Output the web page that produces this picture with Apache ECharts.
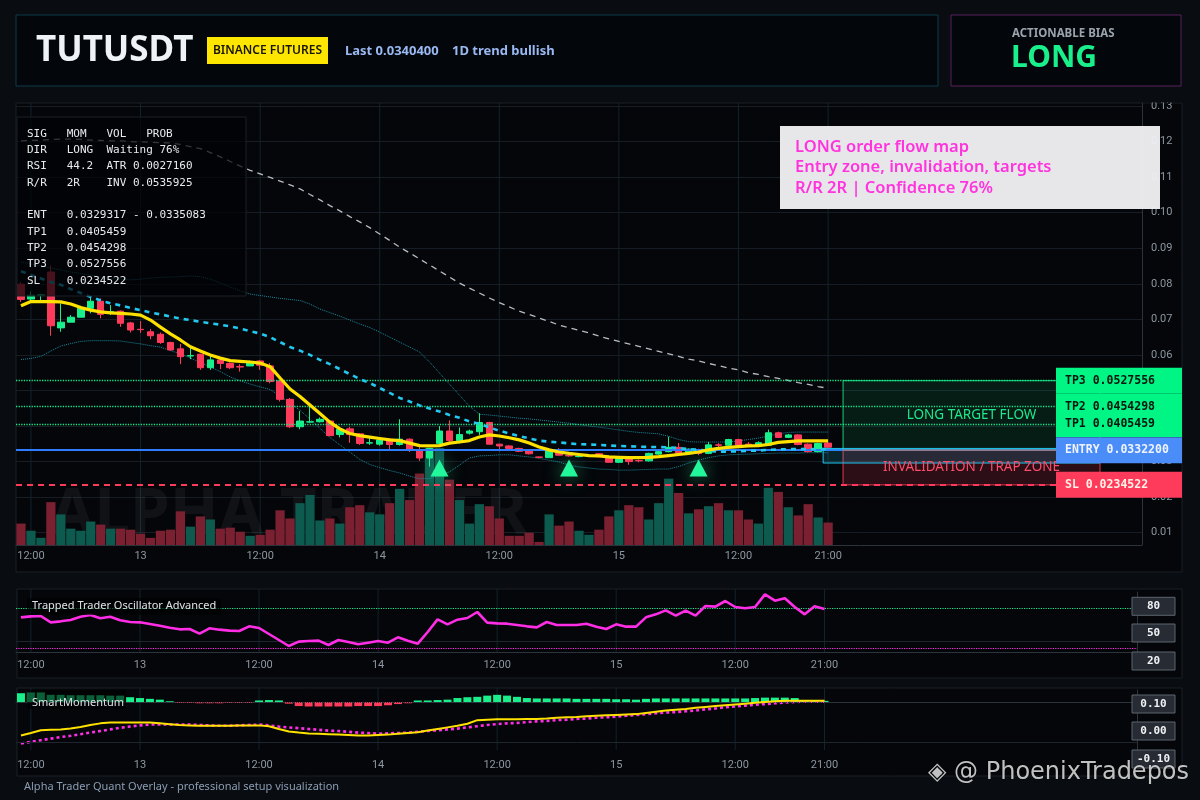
<!DOCTYPE html>
<html>
<head>
<meta charset="utf-8">
<script src="https://cdn.jsdelivr.net/npm/echarts@6/dist/echarts.min.js"></script>
<style>
  html, body { margin: 0; background: #090c10; }
  #chart { width: 1200px; height: 800px; }
</style>
</head>
<body>
<div id="chart"></div>
<script>
// ---- data ----
// hourly candles: [open, close, low, high]
const ohlc = [
  [0.0799,0.0756,0.0749,0.0805],[0.0757,0.0768,0.0754,0.0779],[0.0768,0.0769,0.0752,0.0772],
  [0.0833,0.0682,0.0654,0.0851],[0.0676,0.0692,0.0665,0.0745],[0.0692,0.0706,0.0692,0.0712],
  [0.0706,0.0731,0.0706,0.0738],[0.0731,0.0751,0.0717,0.0764],[0.0751,0.0714,0.0703,0.0759],
  [0.0720,0.0722,0.0712,0.0740],[0.0723,0.0689,0.0679,0.0725],[0.0690,0.0670,0.0663,0.0693],
  [0.0672,0.0671,0.0662,0.0695],[0.0665,0.0654,0.0644,0.0673],[0.0658,0.0635,0.0631,0.0663],
  [0.0635,0.0614,0.0612,0.0637],[0.0617,0.0595,0.0574,0.0631],[0.0597,0.0598,0.0588,0.0625],
  [0.0602,0.0564,0.0558,0.0603],[0.0564,0.0586,0.0558,0.0597],[0.0586,0.0576,0.0560,0.0587],
  [0.0576,0.0564,0.0560,0.0579],[0.0567,0.0566,0.0553,0.0574],[0.0569,0.0579,0.0569,0.0584],
  [0.0583,0.0571,0.0558,0.0586],[0.0569,0.0525,0.0520,0.0577],[0.0527,0.0475,0.0469,0.0528],
  [0.0475,0.0398,0.0394,0.0479],[0.0398,0.0414,0.0391,0.0442],[0.0411,0.0412,0.0408,0.0462],
  [0.0412,0.0419,0.0410,0.0424],[0.0414,0.0373,0.0371,0.0416],[0.0376,0.0391,0.0368,0.0396],
  [0.0392,0.0376,0.0353,0.0398],[0.0378,0.0351,0.0347,0.0380],[0.0352,0.0353,0.0347,0.0368],
  [0.0349,0.0361,0.0345,0.0364],[0.0363,0.0348,0.0331,0.0365],[0.0348,0.0363,0.0345,0.0419],
  [0.0363,0.0331,0.0327,0.0365],[0.0331,0.0310,0.0302,0.0342],[0.0310,0.0337,0.0286,0.0338],
  [0.0351,0.0386,0.0343,0.0400],[0.0386,0.0359,0.0351,0.0416],[0.0359,0.0376,0.0351,0.0396],
  [0.0380,0.0386,0.0376,0.0390],[0.0384,0.0410,0.0375,0.0436],[0.0410,0.0349,0.0348,0.0412],
  [0.0349,0.0344,0.0329,0.0350],[0.0344,0.0337,0.0335,0.0346],[0.0337,0.0329,0.0327,0.0339],
  [0.0331,0.0322,0.0320,0.0333],[0.0313,0.0312,0.0309,0.0314],[0.0311,0.0333,0.0311,0.0335],
  [0.0327,0.0318,0.0316,0.0338],[0.0317,0.0316,0.0314,0.0319],[0.0314,0.0315,0.0312,0.0317],
  [0.0316,0.0317,0.0314,0.0319],[0.0322,0.0314,0.0312,0.0324],[0.0314,0.0298,0.0296,0.0316],
  [0.0298,0.0309,0.0296,0.0311],[0.0309,0.0300,0.0291,0.0311],[0.0303,0.0302,0.0298,0.0306],
  [0.0302,0.0323,0.0300,0.0325],[0.0321,0.0328,0.0319,0.0330],[0.0328,0.0340,0.0326,0.0370],
  [0.0340,0.0323,0.0321,0.0352],[0.0326,0.0335,0.0324,0.0337],[0.0334,0.0323,0.0318,0.0336],
  [0.0323,0.0347,0.0321,0.0355],[0.0347,0.0346,0.0340,0.0352],[0.0346,0.0362,0.0344,0.0364],
  [0.0362,0.0346,0.0344,0.0364],[0.0349,0.0348,0.0345,0.0355],[0.0344,0.0353,0.0342,0.0357],
  [0.0346,0.0381,0.0344,0.0390],[0.0381,0.0368,0.0366,0.0384],[0.0368,0.0375,0.0366,0.0378],
  [0.0375,0.0348,0.0346,0.0377],[0.0349,0.0328,0.0326,0.0351],[0.0328,0.0351,0.0326,0.0353],
  [0.0352,0.03404,0.0339,0.0356]
];

const volume = [
  21,14,7,42,30,16,14,23,20,16,16,15,11,7,14,15,33,18,28,25,
  16,17,13,9,10,15,34,26,41,49,24,26,21,37,39,32,30,41,55,44,
  70,95,95,64,44,21,40,38,26,9,9,12,3,30,19,23,14,10,15,28,
  34,39,37,25,41,65,51,31,35,38,41,34,34,25,21,56,52,37,29,40,
  27,22
];

// yellow fast average
const emaFast = [
  0.0738,0.0750,0.0750,0.0750,0.0749,0.0743,0.0733,0.0726,0.0721,0.0718,
  0.0717,0.0715,0.0712,0.0698,0.0678,0.0659,0.0642,0.0623,0.0611,0.0600,
  0.0591,0.0584,0.0582,0.0580,0.0577,0.0567,0.0535,0.0504,0.0483,0.0459,
  0.0435,0.0411,0.0392,0.0379,0.0373,0.0369,0.0365,0.0361,0.0359,0.0352,
  0.0345,0.0344,0.0345,0.0352,0.0355,0.0359,0.0369,0.0375,0.0372,0.0367,
  0.0361,0.0352,0.0341,0.0333,0.0327,0.0323,0.0320,0.0317,0.0316,0.0313,
  0.0312,0.0311,0.0311,0.0312,0.0314,0.0317,0.0320,0.0323,0.0327,0.0333,
  0.0337,0.0340,0.0342,0.0344,0.0345,0.0348,0.0354,0.0356,0.0358,0.0358,
  0.0358,0.0358
];

// cyan dashed slow average
const emaSlow = [
  0.0835,0.0825,0.0815,0.0805,0.0797,0.0785,0.0774,0.0763,0.0753,0.0745,
  0.0739,0.0732,0.0726,0.0719,0.0714,0.0708,0.0702,0.0698,0.0693,0.0689,
  0.0685,0.0680,0.0674,0.0667,0.0660,0.0650,0.0636,0.0622,0.0612,0.0600,
  0.0586,0.0574,0.0560,0.0546,0.0532,0.0521,0.0507,0.0493,0.0479,0.0469,
  0.0458,0.0449,0.0441,0.0431,0.0423,0.0413,0.0406,0.0396,0.0387,0.0379,
  0.0372,0.0365,0.0359,0.0356,0.0354,0.0351,0.0349,0.0348,0.0347,0.0345,
  0.0344,0.0343,0.0342,0.0341,0.0341,0.0340,0.0338,0.0335,0.0333,0.0330,
  0.0328,0.0328,0.0329,0.0330,0.0331,0.0333,0.0334,0.0335,0.0335,0.0335,
  0.0335,0.0335
];

const bandUpper = [
  0.0861,0.0856,0.0850,0.0844,0.0839,0.0833,0.0829,0.0825,0.0819,0.0816,
  0.0813,0.0811,0.0813,0.0816,0.0818,0.0819,0.0820,0.0822,0.0820,0.0813,
  0.0802,0.0791,0.0780,0.0771,0.0767,0.0763,0.0759,0.0756,0.0753,0.0743,
  0.0729,0.0719,0.0709,0.0698,0.0687,0.0677,0.0664,0.0650,0.0636,0.0622,
  0.0608,0.0580,0.0549,0.0518,0.0487,0.0456,0.0433,0.0431,0.0428,0.0425,
  0.0422,0.0420,0.0417,0.0414,0.0411,0.0408,0.0404,0.0400,0.0397,0.0393,
  0.0389,0.0385,0.0382,0.0380,0.0378,0.0371,0.0362,0.0356,0.0355,0.0355,
  0.0355,0.0355,0.0358,0.0362,0.0366,0.0372,0.0378,0.0382,0.0383,0.0383,
  0.0383,0.0383
];

const bandLower = [
  0.0587,0.0590,0.0596,0.0611,0.0625,0.0632,0.0638,0.0640,0.0640,0.0640,
  0.0639,0.0635,0.0631,0.0626,0.0622,0.0612,0.0603,0.0591,0.0579,0.0566,
  0.0553,0.0538,0.0527,0.0518,0.0510,0.0503,0.0484,0.0465,0.0444,0.0420,
  0.0394,0.0368,0.0347,0.0327,0.0306,0.0292,0.0283,0.0275,0.0268,0.0259,
  0.0252,0.0252,0.0262,0.0271,0.0290,0.0310,0.0316,0.0317,0.0319,0.0319,
  0.0316,0.0313,0.0309,0.0304,0.0299,0.0290,0.0285,0.0282,0.0279,0.0278,
  0.0276,0.0276,0.0277,0.0278,0.0279,0.0279,0.0286,0.0296,0.0304,0.0311,
  0.0316,0.0319,0.0320,0.0321,0.0322,0.0323,0.0324,0.0324,0.0324,0.0325,
  0.0325,0.0325
];

// white dashed long average
const maLong = [
  0.1202,0.1203,0.1204,0.1206,0.1207,0.1207,0.1206,0.1204,0.1203,0.1202,
  0.1202,0.1200,0.1199,0.1198,0.1197,0.1196,0.1192,0.1186,0.1180,0.1169,
  0.1157,0.1144,0.1131,0.1119,0.1109,0.1099,0.1089,0.1078,0.1067,0.1051,
  0.1036,0.1020,0.1005,0.0989,0.0974,0.0958,0.0940,0.0922,0.0903,0.0887,
  0.0870,0.0853,0.0836,0.0819,0.0802,0.0788,0.0774,0.0760,0.0747,0.0735,
  0.0723,0.0714,0.0704,0.0694,0.0684,0.0676,0.0669,0.0662,0.0653,0.0645,
  0.0638,0.0631,0.0624,0.0617,0.0610,0.0603,0.0596,0.0588,0.0583,0.0576,
  0.0570,0.0563,0.0558,0.0550,0.0545,0.0539,0.0534,0.0528,0.0522,0.0517,
  0.0511,0.0506
];

const osc = [
  67,68.5,69,59.5,61,63,68,70.5,65.5,68,
  62.5,60,59.5,57,54.5,51.5,49,49.5,42.5,50.5,
  48.5,47,46.5,53.5,51,42,33,24,30.5,31.5,
  32,25.5,33,30,26.5,29,31.5,29,37,32,
  27.5,45,64,56.5,63.5,66,75,59,58,57.5,
  55.5,53.5,52,60,55.5,55.5,55.5,57.5,53,49.5,
  56.5,53,53,67,71.5,77.5,69.5,77,69.5,84,
  83,91.5,82.5,80.5,82.5,101.5,92,95.5,82.5,71.5,
  83.5,79.5
];

const momLine = [
  -0.0083,-0.0077,-0.0070,-0.0069,-0.0068,-0.0066,-0.0062,-0.0057,-0.0053,-0.0051,
  -0.0051,-0.0051,-0.0051,-0.0051,-0.0053,-0.0055,-0.0057,-0.0058,-0.0059,-0.0059,
  -0.0059,-0.0059,-0.0058,-0.0058,-0.0058,-0.0060,-0.0067,-0.0073,-0.0076,-0.0078,
  -0.0079,-0.0080,-0.0081,-0.0082,-0.0083,-0.0083,-0.0082,-0.0081,-0.0079,-0.0077,
  -0.0075,-0.0071,-0.0067,-0.0063,-0.0059,-0.0054,-0.0045,-0.0044,-0.0043,-0.0043,
  -0.0043,-0.0042,-0.0042,-0.0041,-0.0039,-0.0038,-0.0037,-0.0035,-0.0034,-0.0033,
  -0.0032,-0.0031,-0.0030,-0.0027,-0.0024,-0.0021,-0.0019,-0.0017,-0.0014,-0.0012,
  -0.0010,-0.0008,-0.0006,-0.0004,-0.0002,0.0000,0.0002,0.0003,0.0003,0.0003,
  0.0003,0.0003
];

const momSignal = [
  -0.0103,-0.0099,-0.0095,-0.0091,-0.0087,-0.0084,-0.0080,-0.0076,-0.0072,-0.0068,
  -0.0064,-0.0061,-0.0058,-0.0056,-0.0056,-0.0056,-0.0056,-0.0056,-0.0057,-0.0058,
  -0.0059,-0.0059,-0.0058,-0.0057,-0.0056,-0.0058,-0.0061,-0.0063,-0.0065,-0.0067,
  -0.0069,-0.0071,-0.0072,-0.0074,-0.0076,-0.0077,-0.0079,-0.0078,-0.0077,-0.0076,
  -0.0074,-0.0072,-0.0070,-0.0068,-0.0066,-0.0063,-0.0060,-0.0057,-0.0055,-0.0053,
  -0.0052,-0.0050,-0.0048,-0.0047,-0.0045,-0.0044,-0.0042,-0.0041,-0.0039,-0.0038,
  -0.0036,-0.0034,-0.0032,-0.0030,-0.0028,-0.0026,-0.0025,-0.0023,-0.0021,-0.0018,
  -0.0016,-0.0013,-0.0011,-0.0009,-0.0007,-0.0005,-0.0003,-0.0001,0.0000,0.0001,
  0.0001,0.0001
];

const momHist = [
  0.0022,0.0024,0.0024,0.0018,0.0018,0.0017,0.0017,0.0017,0.0017,0.0016,
  0.0016,0.0012,0.0010,0.0008,0.0006,0.0002,-0.0002,-0.0002,-0.0003,-0.0003,
  -0.0003,-0.0002,-0.0002,-0.0002,0.0004,0.0005,0.0004,-0.0004,-0.0010,-0.0011,
  -0.0011,-0.0011,-0.0011,-0.0011,-0.0010,-0.0010,-0.0010,-0.0008,-0.0005,-0.0003,
  0.0004,0.0004,0.0005,0.0006,0.0010,0.0012,0.0013,0.0016,0.0018,0.0016,
  0.0013,0.0010,0.0009,0.0009,0.0009,0.0009,0.0008,0.0008,0.0008,0.0008,
  0.0007,0.0007,0.0006,0.0008,0.0009,0.0009,0.0009,0.0009,0.0009,0.0009,
  0.0009,0.0009,0.0009,0.0009,0.0010,0.0011,0.0011,0.0011,0.0010,0.0004,
  0.0003,0.0003
];

// time axis ticks (slot index -> label)
const tickIndex = [1, 12, 24, 36, 48, 60, 72, 81];
const tickText = ['12:00', '13', '12:00', '14', '12:00', '15', '12:00', '21:00'];

// trade plan levels
const tp1 = 0.0405459;
const tp2 = 0.0454298;
const tp3 = 0.0527556;
const entry = 0.03322;
const stopLoss = 0.0234522;
const entryZone = [0.0296, 0.0337];
const signalIdx = [42, 55, 68];
const signalPrice = 0.0282;

const infoRows = [
  'SIG   MOM   VOL   PROB',
  'DIR   LONG  Waiting 76%',
  'RSI   44.2  ATR 0.0027160',
  'R/R   2R    INV 0.0535925',
  '',
  'ENT   0.0329317 - 0.0335083',
  'TP1   0.0405459',
  'TP2   0.0454298',
  'TP3   0.0527556',
  'SL    0.0234522'
];
const noteRows = ['LONG order flow map', 'Entry zone, invalidation, targets', 'R/R 2R | Confidence 76%'];

// ---- chart ----
const slotCount = 113;
const slots = Array.from({ length: slotCount }, (_, i) => i);
const tickMap = new Map(tickIndex.map((v, k) => [v, tickText[k]]));

const GREEN = '#19f08c';
const RED = '#ff3b5c';
const MAGENTA = '#ff2ee6';
const labelFont = { color: '#8e97a2', fontSize: 11, fontFamily: 'Roboto' };

function timeAxis(gridIndex, show, margin) {
  return {
    type: 'category', gridIndex, data: slots, boundaryGap: true,
    axisLine: { show, lineStyle: { color: '#2b333d' } },
    axisTick: { show: false },
    axisLabel: Object.assign({
      show, margin,
      interval: (i) => tickMap.has(i),
      formatter: (v, i) => tickMap.get(i) || ''
    }, labelFont),
    splitLine: { show: false }
  };
}

function hiddenValue(gridIndex, min, max) {
  return {
    type: 'value', gridIndex, min, max, position: 'right',
    axisLine: { show: true, lineStyle: { color: '#2b333d' } },
    axisTick: { show: false }, axisLabel: { show: false }, splitLine: { show: false }
  };
}

const line = (name, data, color, width, type, z) => ({
  name, type: 'line', xAxisIndex: 0, yAxisIndex: 0, data,
  symbol: 'none', silent: true, z,
  lineStyle: { color, width, type }
});

const levelLine = (value, color, type, width) => ({ yAxis: value, lineStyle: { color, type, width } });

const chart = echarts.init(document.getElementById('chart'));

chart.setOption({
  backgroundColor: '#090c10',
  animation: false,
  grid: [
    { left: 16, right: 58, top: 106, height: 426.7 },
    { left: 16, right: 58, top: 448, height: 97 },
    { left: 16, right: 63, top: 592, height: 60 },
    { left: 16, right: 63, top: 690, height: 60.3 }
  ],
  xAxis: [
    timeAxis(0, false, 0),
    timeAxis(1, true, 6),
    timeAxis(2, true, 8),
    timeAxis(3, true, 9)
  ],
  yAxis: [
    {
      type: 'value', gridIndex: 0, position: 'right', min: 0.01, max: 0.13, interval: 0.01,
      axisLine: { show: false }, axisTick: { show: false },
      axisLabel: Object.assign({ margin: 9, formatter: (v) => v.toFixed(2) }, labelFont),
      splitLine: { lineStyle: { color: '#161d25' } }
    },
    { type: 'value', gridIndex: 1, min: 0, max: 95, show: false },
    hiddenValue(2, 15, 105),
    hiddenValue(3, -0.012, 0.003)
  ],
  series: [
    line('upper', bandUpper, '#1b8aa0', 1, 'dotted', 3),
    line('lower', bandLower, '#1b8aa0', 1, 'dotted', 3),
    line('long', maLong, 'rgba(215,220,228,0.85)', 1.3, [6, 5], 3),
    {
      name: 'price', type: 'candlestick', xAxisIndex: 0, yAxisIndex: 0, data: ohlc,
      barWidth: 7, z: 4,
      itemStyle: { color: GREEN, color0: RED, borderColor: GREEN, borderColor0: RED, borderWidth: 1 },
      markLine: {
        silent: true, precision: 7, symbol: ['none', 'none'], label: { show: false },
        data: [
          levelLine(tp3, '#19e68a', 'dotted', 1.3),
          levelLine(tp2, '#19e68a', 'dotted', 1.3),
          levelLine(tp1, '#19e68a', 'dotted', 1.3),
          levelLine(entry, '#2f7dff', 'solid', 2.2),
          levelLine(stopLoss, RED, [6, 5], 2)
        ]
      }
    },
    line('slow', emaSlow, '#22c8ef', 2.6, [5, 5], 5),
    line('fast', emaFast, '#ffe100', 3.2, 'solid', 6),
    {
      name: 'signal', type: 'scatter', xAxisIndex: 0, yAxisIndex: 0, z: 7,
      data: signalIdx.map((i) => [i, signalPrice]),
      symbol: 'triangle', symbolSize: [18, 17],
      itemStyle: { color: '#22f79c', opacity: 1, shadowBlur: 18, shadowColor: 'rgba(60,255,170,0.6)' }
    },
    {
      name: 'volume', type: 'bar', xAxisIndex: 1, yAxisIndex: 1, barWidth: '93%', z: 2,
      data: volume.map((v, i) => ({
        value: v,
        itemStyle: { color: ohlc[i][1] >= ohlc[i][0] ? '#0d5a4e' : '#7a2031' }
      }))
    },
    {
      name: 'oscillator', type: 'line', xAxisIndex: 2, yAxisIndex: 2, data: osc,
      symbol: 'none', lineStyle: { color: MAGENTA, width: 2.6 }, z: 5,
      markLine: {
        silent: true, precision: 3, symbol: ['none', 'none'], label: { show: false },
        data: [
          levelLine(80, '#1de98b', 'dotted', 1.2),
          levelLine(20, MAGENTA, 'dotted', 1.2),
          levelLine(30.5, '#1e252e', 'solid', 1)
        ]
      }
    },
    {
      name: 'hist', type: 'bar', xAxisIndex: 3, yAxisIndex: 3, barWidth: 8, z: 3,
      data: momHist.map((v) => ({ value: v, itemStyle: { color: v >= 0 ? GREEN : RED } })),
      markLine: {
        silent: true, precision: 5, symbol: ['none', 'none'], label: { show: false },
        data: [
          levelLine(0, '#2a313a', 'dotted', 1),
          levelLine(-0.01, '#1e252e', 'solid', 1)
        ]
      }
    },
    {
      name: 'momSignal', type: 'line', xAxisIndex: 3, yAxisIndex: 3, data: momSignal,
      symbol: 'none', lineStyle: { color: MAGENTA, width: 2.6, type: [3, 3] }, z: 4
    },
    {
      name: 'momentum', type: 'line', xAxisIndex: 3, yAxisIndex: 3, data: momLine,
      symbol: 'none', lineStyle: { color: '#ffe100', width: 2 }, z: 5
    }
  ]
});

// ---- overlay: panels, zones, labels ----
function txt(x, y, text, font, fill, extra) {
  return {
    type: 'text', x, y, z: 30, silent: true,
    style: Object.assign({ text, font, fill, align: 'left', verticalAlign: 'middle' }, extra || {})
  };
}
function box(x, y, w, h, fill, stroke, z) {
  return {
    type: 'rect', z: z == null ? 30 : z, silent: true,
    shape: { x, y, width: w, height: h },
    style: { fill, stroke: stroke || null, lineWidth: 1 }
  };
}

const yP = (v) => chart.convertToPixel({ yAxisIndex: 0 }, v);
const xP = (i) => chart.convertToPixel({ xAxisIndex: 0 }, i);
const xO = (i) => chart.convertToPixel({ xAxisIndex: 2 }, i);
const band = xP(1) - xP(0);

const g = [];
// pane frames
g.push(box(16, 103, 1166, 469, '#040609', '#1a2129', -10));
g.push(box(17, 589, 1165, 89, '#040609', '#1a2129', -10));
g.push(box(17, 688, 1165, 88, '#040609', '#1a2129', -10));
// vertical time grid lines
tickIndex.forEach((i) => {
  const a = xP(i), b = xO(i);
  g.push({ type: 'line', z: -5, silent: true, shape: { x1: a, y1: 103, x2: a, y2: 545 }, style: { stroke: '#10242c', lineWidth: 1 } });
  g.push({ type: 'line', z: -5, silent: true, shape: { x1: b, y1: 589, x2: b, y2: 652 }, style: { stroke: '#10242c', lineWidth: 1 } });
  g.push({ type: 'line', z: -5, silent: true, shape: { x1: b, y1: 688, x2: b, y2: 750 }, style: { stroke: '#10242c', lineWidth: 1 } });
});
// price axis line
g.push({ type: 'line', z: 1, silent: true, shape: { x1: 1142.5, y1: 103, x2: 1142.5, y2: 545 }, style: { stroke: '#2b333d', lineWidth: 1 } });

// big watermark
const wm = txt(50, 516, 'ALPHA TRADER', 'bold 64px "Noto Sans"', 'rgba(255,255,255,0.05)');
wm.z = 1;
g.push(wm);

// header
g.push(box(16, 15, 922, 71, '#03060a', '#0f3b48', 10));
g.push(txt(36, 51, 'TUTUSDT', 'bold 35px "Noto Sans"', '#eef3f8', { shadowBlur: 14, shadowColor: 'rgba(170,210,255,0.35)' }));
g.push(box(207, 37, 121, 27, '#ffe600', null, 30));
g.push(txt(267.5, 51, 'BINANCE FUTURES', '600 12px "Noto Sans"', '#17150a', { align: 'center' }));
g.push(txt(345, 51, 'Last 0.0340400', 'bold 13px "Noto Sans"', '#9ab9f3'));
g.push(txt(452, 51, '1D trend bullish', 'bold 13px "Noto Sans"', '#9ab9f3'));
g.push(box(951, 15, 230, 71, '#03060a', '#5c2160', 10));
g.push(txt(1012, 34, 'ACTIONABLE BIAS', 'bold 11.5px "Noto Sans"', '#9ba3ad'));
g.push(txt(1011, 58, 'LONG', 'bold 30px "Noto Sans"', GREEN, { shadowBlur: 16, shadowColor: 'rgba(25,240,140,0.45)' }));
// hide top half of the clipped 0.13 label
g.push(box(1143, 88, 39, 14.5, '#090c10', null, 30));

// info panel
g.push(box(17, 117, 229, 179, 'rgba(2,3,6,0.72)', '#1b2129', 20));
infoRows.forEach((row, k) => {
  if (row) g.push(txt(27, 134 + k * 16.3, row, '11px "DejaVu Sans Mono"', '#e8eaed'));
});

// note box
g.push(box(780, 126, 380, 83, 'rgba(240,240,244,0.96)', null, 20));
noteRows.forEach((row, k) => g.push(txt(795, 147 + k * 20.5, row, '600 16.5px "Noto Sans"', '#ff34de')));

// zones
const zoneL = xP(82) + band / 2;
const entryL = xP(80) + band / 2;
const zoneR = 1100;
const yTp3 = yP(tp3), yEnt = yP(entry), ySl = yP(stopLoss);
g.push(box(zoneL, yTp3, zoneR - zoneL, yEnt - yTp3, 'rgba(25,240,140,0.10)', 'rgba(25,240,140,0.85)', 12));
g.push(box(zoneL, yEnt, zoneR - zoneL, ySl - yEnt, 'rgba(255,59,92,0.16)', 'rgba(255,59,92,0.9)', 12));
g.push(box(entryL, yP(entryZone[1]), zoneR - entryL, yP(entryZone[0]) - yP(entryZone[1]), 'rgba(30,190,230,0.16)', '#1ec8f0', 13));
g.push(txt((zoneL + zoneR) / 2, (yTp3 + yEnt) / 2, 'LONG TARGET FLOW', '13.5px "Noto Sans"', '#1de98b', { align: 'center' }));
g.push(txt((zoneL + zoneR) / 2, (yEnt + ySl) / 2, 'INVALIDATION / TRAP ZONE', '13.5px "Noto Sans"', '#ff4d6a', { align: 'center' }));

// level tags
const tags = [
  ['TP3 0.0527556', tp3, '#00f585', '#07170f'],
  ['TP2 0.0454298', tp2, '#00f585', '#07170f'],
  ['TP1 0.0405459', tp1, '#00f585', '#07170f'],
  ['ENTRY 0.0332200', entry, '#4b8df8', '#eef3ff'],
  ['SL 0.0234522', stopLoss, '#ff3b5c', '#fff2e6']
];
tags.forEach((t) => g.push(box(1056, yP(t[1]) - 13, 126, 26, t[2], null, 40)));
tags.forEach((t) => {
  const el = txt(1065, yP(t[1]), t[0], 'bold 11.5px "DejaVu Sans Mono"', t[3]);
  el.z = 41;
  g.push(el);
});

// oscillator pane decorations
g.push(box(27, 598, 194, 17, 'rgba(0,0,0,0.6)', null, 20));
g.push(txt(32, 605.5, 'Trapped Trader Oscillator Advanced', '11px "Noto Sans"', '#dfe3e8'));
[['80', 606.3], ['50', 633], ['20', 661]].forEach((t) => {
  g.push(box(1132, t[1] - 9, 43, 18, '#272c34', '#5d6570', 30));
  g.push(txt(1153.5, t[1], t[0], 'bold 11px "DejaVu Sans Mono"', '#f0f2f5', { align: 'center' }));
});

// momentum pane decorations
g.push(box(27, 690, 99, 19, 'rgba(0,0,0,0.6)', null, 20));
g.push(txt(32, 703, 'SmartMomentum', '11px "Noto Sans"', '#dfe3e8'));
[['0.10', 704], ['0.00', 731], ['-0.10', 759]].forEach((t) => {
  g.push(box(1132, t[1] - 9, 43, 18, '#272c34', '#5d6570', 30));
  g.push(txt(1153.5, t[1], t[0], 'bold 11px "DejaVu Sans Mono"', '#f0f2f5', { align: 'center' }));
});

// footer
g.push(txt(24, 787, 'Alpha Trader Quant Overlay - professional setup visualization', '11px "Noto Sans"', '#8c9db3'));
g.push(txt(928, 773, '◈ @ PhoenixTradepos', '24px "DejaVu Sans"', 'rgba(220,220,220,0.88)', { stroke: 'rgba(0,0,0,0.45)', lineWidth: 1 }));

chart.setOption({ graphic: g });
</script>
</body>
</html>
